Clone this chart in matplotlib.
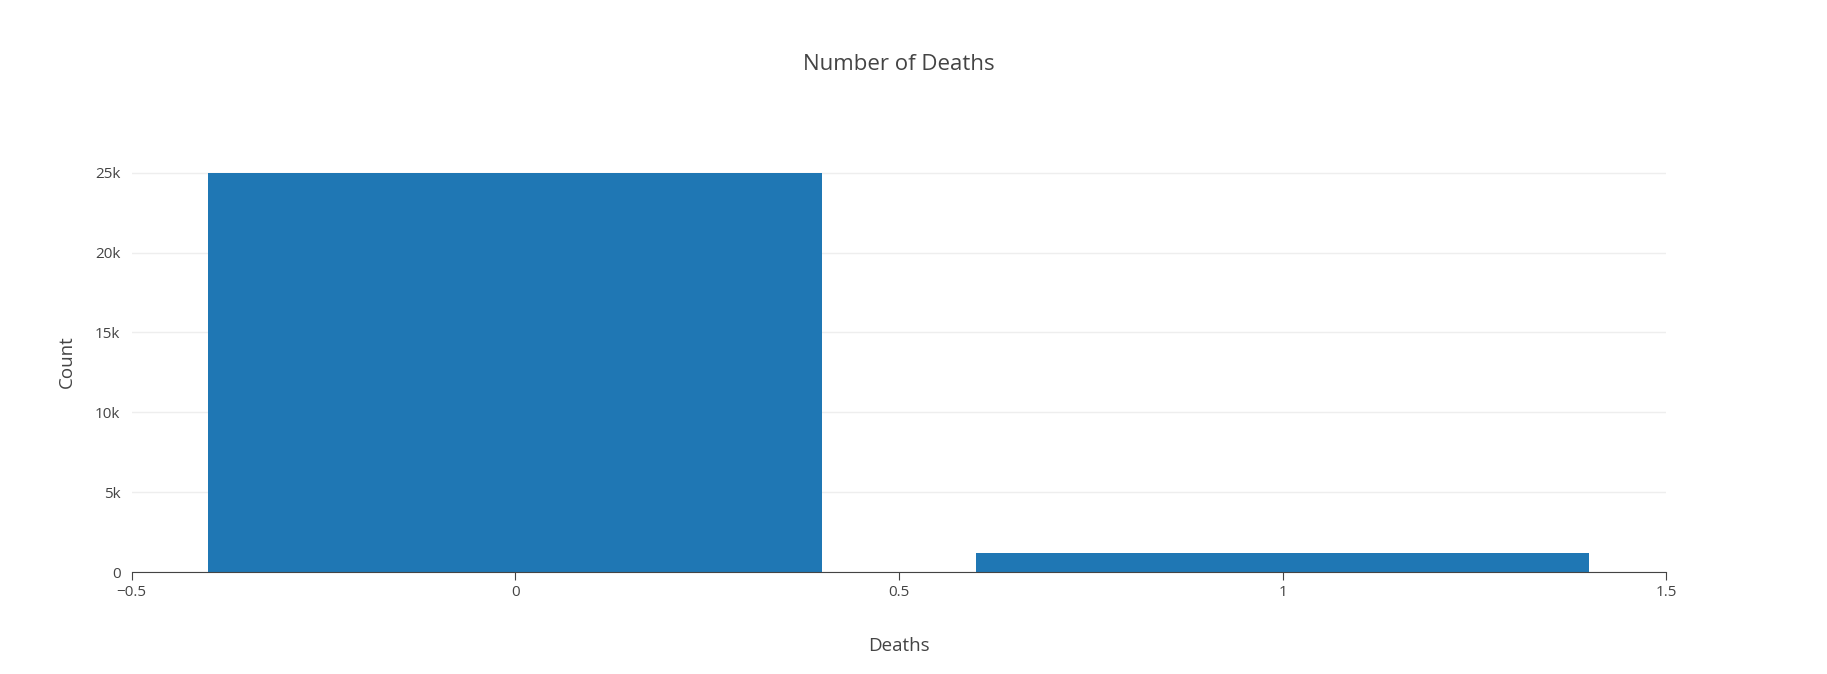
import matplotlib.pyplot as plt

deaths = [0, 1]
counts = [25000, 1230]
yticks = [0, 5000, 10000, 15000, 20000, 25000]
ytick_labels = ["0", "5k", "10k", "15k", "20k", "25k"]
xticks = [-0.5, 0, 0.5, 1, 1.5]
xtick_labels = ["\u22120.5", "0", "0.5", "1", "1.5"]

plt.rcParams['font.family'] = ['Open Sans', 'DejaVu Sans']
fig = plt.figure(figsize=(18.27, 6.74), dpi=100)
ax = fig.add_axes([0.072, 0.151, 0.84, 0.624])

ax.bar(deaths, counts, width=0.8, color='#1f77b4', zorder=2)
ax.set_xlim(-0.5, 1.5)
ax.set_ylim(0, 26316)
ax.set_yticks(yticks)
ax.set_yticklabels(ytick_labels)
ax.set_xticks(xticks)
ax.set_xticklabels(xtick_labels)
ax.grid(axis='y', color='#eeeeee', linewidth=1, zorder=0)
for s in ['top', 'right', 'left']:
    ax.spines[s].set_visible(False)
ax.spines['bottom'].set_color('#444444')
ax.tick_params(axis='y', length=0, labelsize=11, colors='#444444', pad=8)
ax.tick_params(axis='x', length=6, labelsize=11, colors='#444444', color='#444444')

ax.set_xlabel('Deaths', fontsize=13.5, color='#444444', labelpad=26)
ax.set_ylabel('Count', fontsize=13.5, color='#444444', labelpad=14)
fig.text(0.492, 0.905, 'Number of Deaths', ha='center', va='center', fontsize=16, color='#444444')

fig.savefig('out.png', dpi=100, facecolor='white')
